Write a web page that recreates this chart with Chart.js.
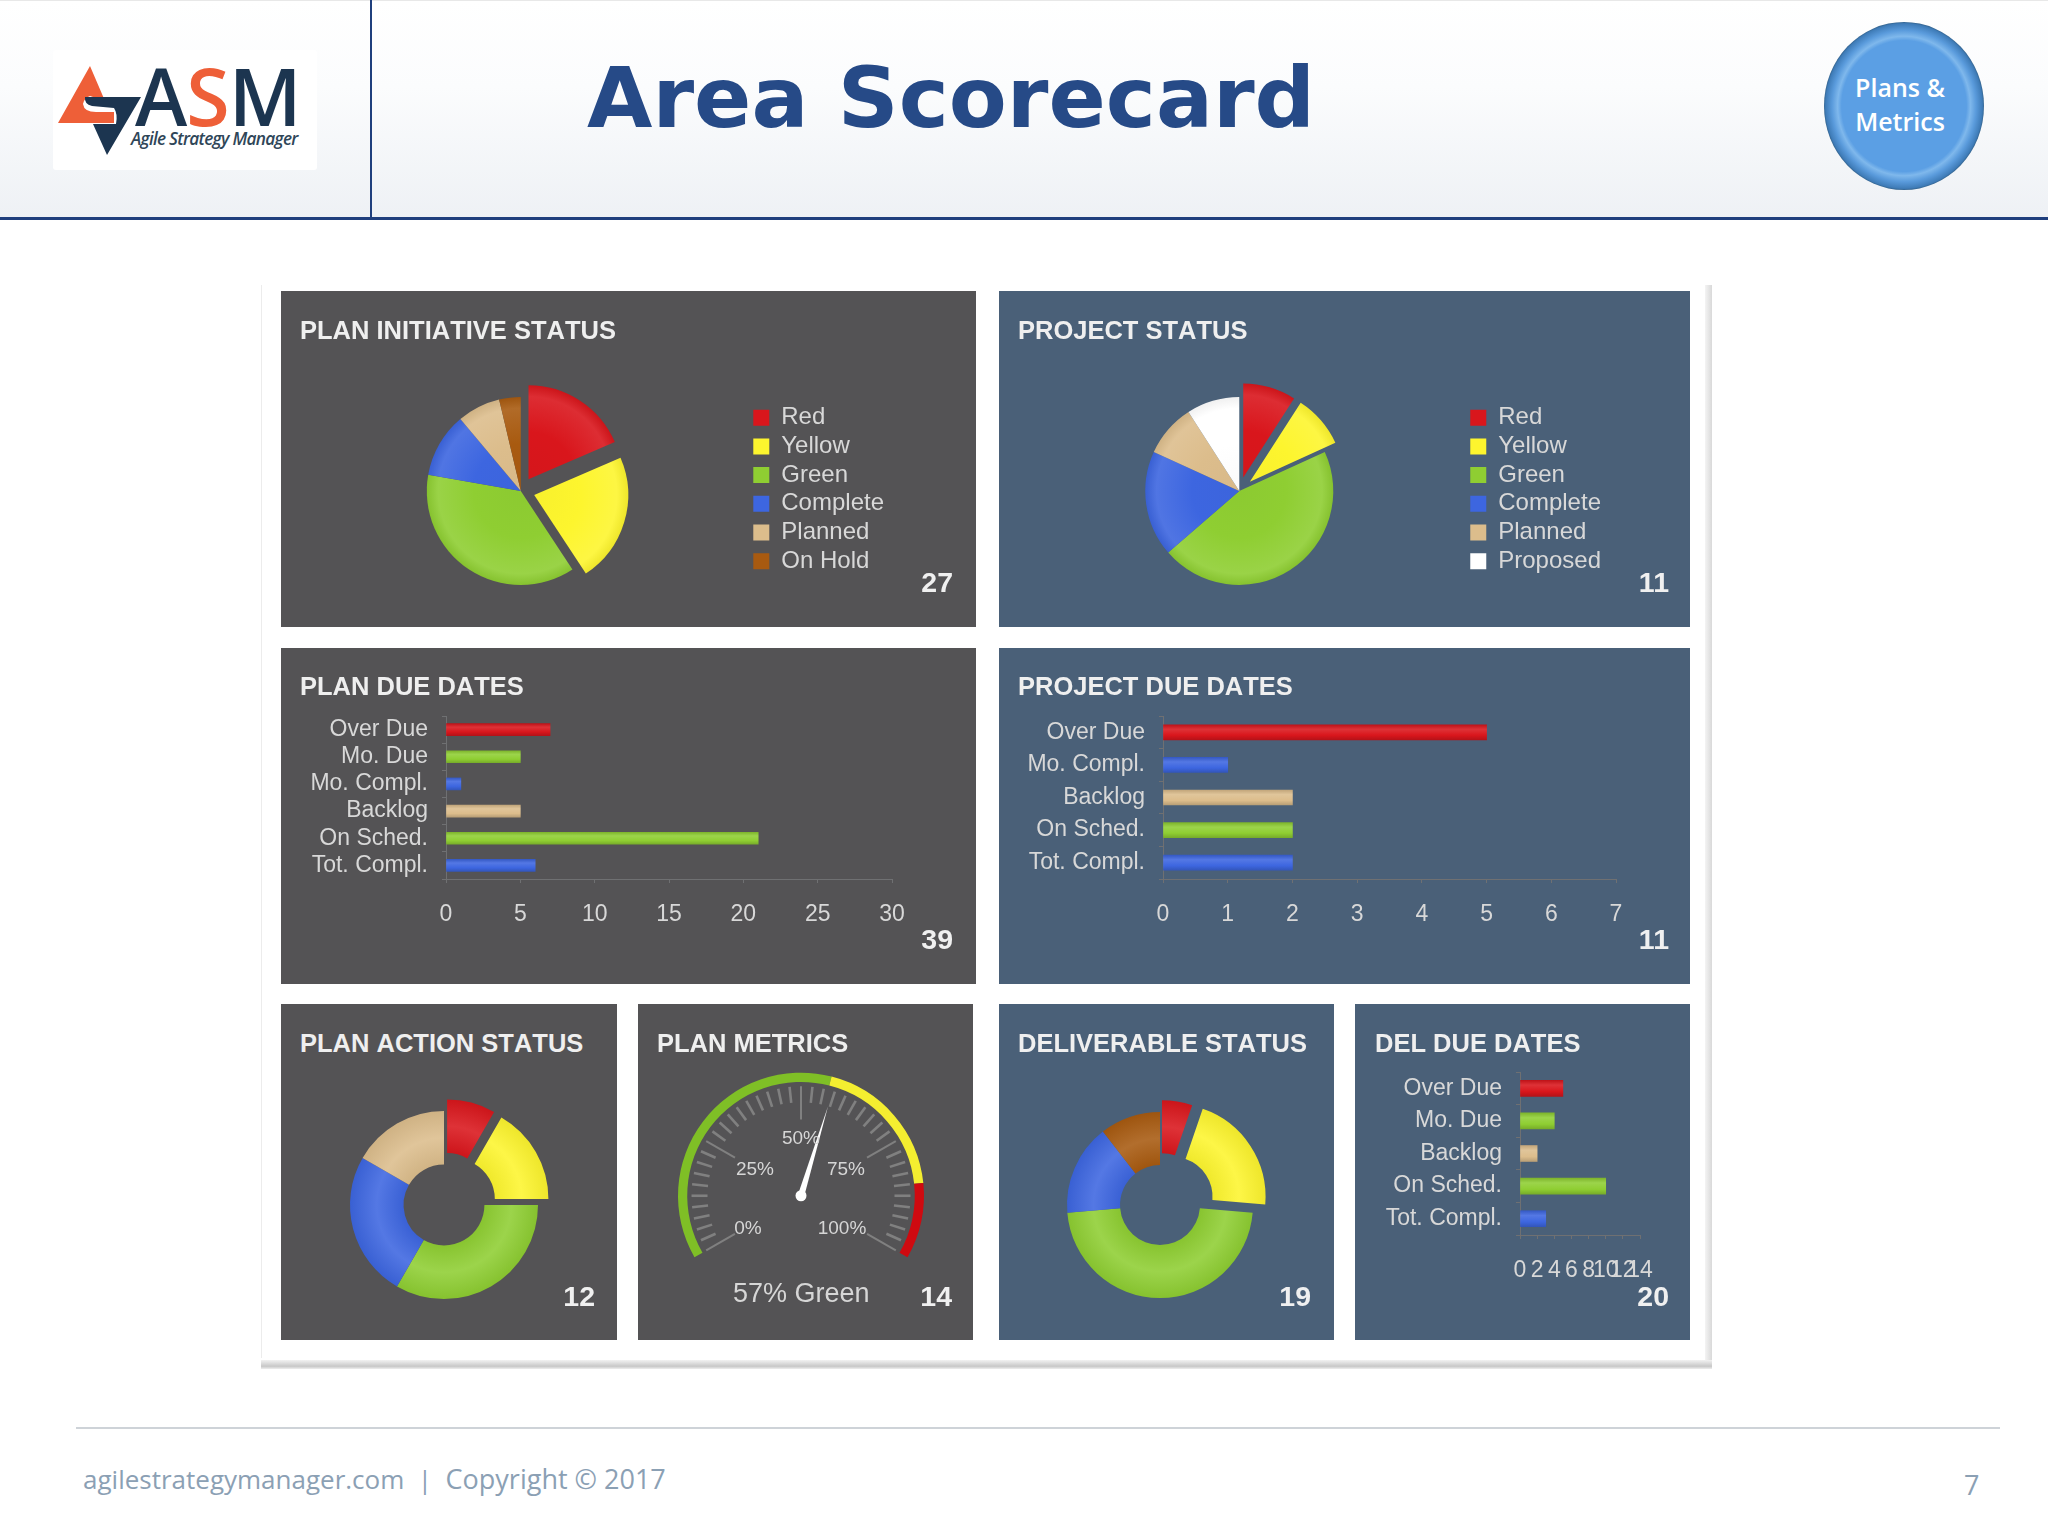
<!DOCTYPE html>
<html>
<head>
<meta charset="utf-8">
<script src="https://cdn.jsdelivr.net/npm/chart.js@4/dist/chart.umd.js"></script>
<style>
html,body{margin:0;padding:0;background:#fff;}
#page{position:relative;width:2048px;height:1536px;overflow:hidden;background:#fff;font-family:'Liberation Sans',Arial,sans-serif;}
.abs{position:absolute;}
#hdr{left:0;top:0;width:2048px;height:217px;background:linear-gradient(#ffffff 0%,#fbfcfd 40%,#eef1f5 100%);border-top:1px solid #e8e8e8;box-sizing:border-box;}
.panel{position:absolute;}
.dark{background:#545355;}
.blue{background:#4a6078;}
.ttl{position:absolute;font-weight:bold;font-size:25.5px;font-kerning:none;color:#efefef;white-space:nowrap;line-height:30px;}
.tot{position:absolute;font-weight:bold;font-size:28.5px;color:#f0f0f0;line-height:32px;text-align:right;}
.gl{position:absolute;font-size:19px;color:#d6d6d6;line-height:20px;transform:translate(-50%,-50%);white-space:nowrap;}
canvas{position:absolute;}
</style>
</head>
<body>
<div id="page">
  <div id="hdr" class="abs"></div>
  <div class="abs" style="left:0;top:217px;width:2048px;height:3px;background:#1f3f7d;"></div>
  <div class="abs" style="left:370px;top:0;width:2px;height:218px;background:#1f3f7d;"></div>

  <div class="abs" style="left:53px;top:50px;width:264px;height:120px;background:#fff;border-radius:3px;"></div>
  <svg class="abs" style="left:53px;top:50px;" width="264" height="120" viewBox="53 50 264 120">
    <path d="M90 66 L105 101 L90 96 Q84 98 83 104 Q84 112 96 112 L114 112 L114 123 L58 123 Z" fill="#ee5f38"/>
    <path d="M85 97 L141 97 L107 155 L93 124 L116 124 Q118 114 114 108 L92 106 Q84 104 85 97 Z" fill="#1c3550"/>
  </svg>
  <div class="abs" style="left:135px;top:46px;font-family:'Open Sans';font-weight:600;font-size:79px;line-height:100px;letter-spacing:-1px;color:#1c3550;white-space:nowrap;">A<span style="color:#ee5f38;">S</span>M</div>
  <div class="abs" style="left:131px;top:127px;font-family:'Open Sans';font-style:italic;font-weight:600;font-size:17.2px;line-height:24px;letter-spacing:-0.7px;color:#2f4658;white-space:nowrap;">Agile Strategy Manager</div>

  <div class="abs" style="left:587px;top:48px;font-family:'DejaVu Sans';font-weight:bold;font-size:84.5px;line-height:100px;color:#264a87;white-space:nowrap;">Area Scorecard</div>

  <div class="abs" style="left:1824px;top:22px;width:160px;height:168px;border-radius:50%;background:radial-gradient(closest-side,#5b9fe4 0%,#5b9fe4 78%,#7fb8ec 83%,#5a9bdc 90%,#3f7cb8 98%,#34648f 100%);"></div>
  <div class="abs" style="left:1820px;top:70px;width:160px;text-align:center;font-family:'Open Sans';font-weight:600;font-size:25px;line-height:34px;color:#fff;">Plans &amp;<br>Metrics</div>

  <div class="abs" style="left:261px;top:285px;width:1px;height:1073px;background:#ececec;"></div>
  <div class="abs" style="left:1705px;top:285px;width:7px;height:1084px;background:linear-gradient(90deg,#f4f4f4,#d9d9d9);"></div>
  <div class="abs" style="left:261px;top:1360px;width:1451px;height:9px;background:linear-gradient(#f2f2f2,#c8c8c8 70%,#eeeeee);"></div>

  <div class="panel dark" style="left:281px;top:291px;width:695px;height:336px;"></div>
  <div class="panel blue" style="left:999px;top:291px;width:691px;height:336px;"></div>
  <div class="panel dark" style="left:281px;top:648px;width:695px;height:336px;"></div>
  <div class="panel blue" style="left:999px;top:648px;width:691px;height:336px;"></div>
  <div class="panel dark" style="left:281px;top:1004px;width:336px;height:336px;"></div>
  <div class="panel dark" style="left:638px;top:1004px;width:335px;height:336px;"></div>
  <div class="panel blue" style="left:999px;top:1004px;width:335px;height:336px;"></div>
  <div class="panel blue" style="left:1355px;top:1004px;width:335px;height:336px;"></div>

  <canvas id="cInit" style="left:281px;top:291px;width:695px;height:336px;"></canvas>
  <canvas id="cProj" style="left:999px;top:291px;width:691px;height:336px;"></canvas>
  <canvas id="cPlanDue" style="left:281px;top:648px;width:695px;height:336px;"></canvas>
  <canvas id="cProjDue" style="left:999px;top:648px;width:691px;height:336px;"></canvas>
  <canvas id="cAction" style="left:314px;top:1075px;width:260px;height:260px;"></canvas>
  <canvas id="cGauge" style="left:651px;top:1015px;width:300px;height:300px;"></canvas>
  <canvas id="cDeliv" style="left:1030px;top:1075px;width:260px;height:260px;"></canvas>
  <canvas id="cDelDue" style="left:1355px;top:1004px;width:335px;height:336px;"></canvas>

  <div class="ttl" style="left:300px;top:315px;">PLAN INITIATIVE STATUS</div>
  <div class="ttl" style="left:1018px;top:315px;">PROJECT STATUS</div>
  <div class="ttl" style="left:300px;top:671px;">PLAN DUE DATES</div>
  <div class="ttl" style="left:1018px;top:671px;">PROJECT DUE DATES</div>
  <div class="ttl" style="left:300px;top:1028px;">PLAN ACTION STATUS</div>
  <div class="ttl" style="left:657px;top:1028px;">PLAN METRICS</div>
  <div class="ttl" style="left:1018px;top:1028px;">DELIVERABLE STATUS</div>
  <div class="ttl" style="left:1375px;top:1028px;">DEL DUE DATES</div>

  <div class="tot" style="right:1095px;top:566px;">27</div>
  <div class="tot" style="right:379px;top:566px;">11</div>
  <div class="tot" style="right:1095px;top:923px;">39</div>
  <div class="tot" style="right:379px;top:923px;">11</div>
  <div class="tot" style="right:1453px;top:1280px;">12</div>
  <div class="tot" style="right:1096px;top:1280px;">14</div>
  <div class="tot" style="right:737px;top:1280px;">19</div>
  <div class="tot" style="right:379px;top:1280px;">20</div>

  <div class="gl" style="left:801px;top:1138px;">50%</div>
  <div class="gl" style="left:755px;top:1169px;">25%</div>
  <div class="gl" style="left:846px;top:1169px;">75%</div>
  <div class="gl" style="left:748px;top:1228px;">0%</div>
  <div class="gl" style="left:842px;top:1228px;">100%</div>
  <div class="abs" style="left:733px;top:1277px;font-size:27px;line-height:32px;color:#d6d6d6;white-space:nowrap;">57% Green</div>

  <div class="abs" style="left:76px;top:1427px;width:1924px;height:2px;background:#ced3d8;"></div>
  <div class="abs" style="left:83px;top:1461px;font-family:'Open Sans';font-size:26px;line-height:36px;color:#8ba0b4;white-space:pre;">agilestrategymanager.com  |  <span style="font-size:27px;">Copyright © 2017</span></div>
  <div class="abs" style="left:1964px;top:1467px;font-family:'Open Sans';font-size:27px;line-height:36px;color:#8ba0b4;">7</div>
</div>

<script>
const initLabels = ['Red','Yellow','Green','Complete','Planned','On Hold'];
const initValues = [5,6,10,3,2,1];
const initColors = ['#d9161c','#fdf52e','#8fce32','#3d66e0','#dcbd8c','#a85a10'];

const projLabels = ['Red','Yellow','Green','Complete','Planned','Proposed'];
const projValues = [1,1,5,2,1,1];
const projColors = ['#d9161c','#fdf52e','#8fce32','#3d66e0','#dcbd8c','#ffffff'];

const actionLabels = ['Red','Yellow','Green','Complete','Planned'];
const actionValues = [1,2,4,3,2];
const actionColors = ['#d9161c','#fdf52e','#8fce32','#3d66e0','#dcbd8c'];

const delivLabels = ['Red','Yellow','Green','Complete','On Hold'];
const delivValues = [1,4,9,3,2];
const delivColors = ['#d9161c','#fdf52e','#8fce32','#3d66e0','#a85a10'];

const planDueLabels = ['Over Due','Mo. Due','Mo. Compl.','Backlog','On Sched.','Tot. Compl.'];
const planDueValues = [7,5,1,5,21,6];
const planDueColors = ['#d9161c','#8fce32','#3d66e0','#dcbd8c','#8fce32','#3d66e0'];

const projDueLabels = ['Over Due','Mo. Compl.','Backlog','On Sched.','Tot. Compl.'];
const projDueValues = [5,1,2,2,2];
const projDueColors = ['#d9161c','#3d66e0','#dcbd8c','#8fce32','#3d66e0'];

const delDueLabels = ['Over Due','Mo. Due','Backlog','On Sched.','Tot. Compl.'];
const delDueValues = [5,4,2,10,3];
const delDueColors = ['#d9161c','#8fce32','#dcbd8c','#8fce32','#3d66e0'];

const gaugeBands = [56,29,15];
const gaugeColors = ['#7fbf26','#f4ee30','#cf0a10'];
const gaugeValue = 57;
const gaugeMajor = [0,25,50,75,100];

const FONT = "'Liberation Sans', Arial, sans-serif";
const TEXT = '#d8d8d8';
Chart.defaults.animation = false;
Chart.defaults.font.family = FONT;
Chart.defaults.responsive = false;
Chart.defaults.plugins.tooltip.enabled = false;

// Moves whole slices outward (Chart.js's own arc "offset" mostly enlarges them).
const explode = {
  id:'explode',
  beforeDatasetDraw(chart, args, opts){
    const meta = chart.getDatasetMeta(args.index), c = chart.ctx, off = opts.offsets || [];
    meta.data.forEach((arc,i)=>{
      const o = off[i] || 0, mid = (arc.startAngle + arc.endAngle)/2;
      c.save();
      c.translate(o*Math.cos(mid), o*Math.sin(mid));
      arc.draw(c, chart.chartArea);
      c.restore();
    });
    return false;
  }
};

function shade(hex, f){
  const n = parseInt(hex.slice(1),16);
  const c = [n>>16,(n>>8)&255,n&255].map(v=>Math.round(f>0? v+(255-v)*f : v*(1+f)));
  return 'rgb('+c.join(',')+')';
}
function sized(id){
  const c = document.getElementById(id);
  c.width = parseInt(c.style.width); c.height = parseInt(c.style.height);
  return c;
}
function arcFill(colors, R, inner){
  return function(ctx){
    const a = ctx.chart.chartArea;
    const base = colors[ctx.dataIndex];
    if(!a || !isFinite(a.left)) return base;
    const cx = (a.left+a.right)/2, cy = (a.top+a.bottom)/2;
    const g = ctx.chart.ctx.createRadialGradient(cx,cy,0,cx,cy,R);
    if(inner){
      g.addColorStop(0,shade(base,-.05));
      g.addColorStop(inner,shade(base,-.05));
      g.addColorStop((inner+1)/2,shade(base,.12));
      g.addColorStop(1,shade(base,-.06));
    } else {
      g.addColorStop(0,shade(base,-.02));
      g.addColorStop(.5,base);
      g.addColorStop(.88,shade(base,.1));
      g.addColorStop(1,shade(base,-.06));
    }
    return g;
  };
}
function legendLabels(colors){
  return function(chart){
    return chart.data.labels.map((t,i)=>({text:t,fillStyle:colors[i],strokeStyle:colors[i],lineWidth:0,fontColor:TEXT,index:i}));
  };
}
function pie(id, labels, values, colors, off, R, padding){
  new Chart(sized(id),{
    type:'pie',
    data:{labels:labels,datasets:[{data:values,backgroundColor:arcFill(colors,R),borderWidth:0}]},
    options:{radius:R,layout:{padding:padding},
      plugins:{explode:{offsets:off},legend:{position:'right',align:'start',labels:{boxWidth:16,boxHeight:16,padding:4.7,color:TEXT,font:{size:24,family:FONT},generateLabels:legendLabels(colors)}}}},
    plugins:[explode]
  });
}
function donut(id, labels, values, colors, off, R, cut){
  new Chart(sized(id),{
    type:'doughnut',
    data:{labels:labels,datasets:[{data:values,backgroundColor:arcFill(colors,R,cut),borderWidth:0}]},
    options:{radius:R,cutout:Math.round(cut*100)+'%',plugins:{explode:{offsets:off},legend:{display:false}}},
    plugins:[explode]
  });
}
function barFill(colors, thick){
  return function(ctx){
    const base = colors[ctx.dataIndex];
    const y = ctx.chart.scales.y;
    if(!y) return base;
    const c = y.getPixelForValue(ctx.dataIndex);
    if(!isFinite(c)) return base;
    const g = ctx.chart.ctx.createLinearGradient(0,c-thick/2,0,c+thick/2);
    g.addColorStop(0,shade(base,-.12));
    g.addColorStop(.3,shade(base,.12));
    g.addColorStop(.7,base);
    g.addColorStop(1,shade(base,-.16));
    return g;
  };
}
function hbar(id, labels, values, colors, axis, thick){
  new Chart(sized(id),{
    type:'bar',
    data:{labels:labels,datasets:[{data:values,backgroundColor:barFill(colors,thick),barThickness:thick,borderWidth:0}]},
    options:{
      indexAxis:'y',
      layout:{padding:{left:0,right:axis.right,top:axis.top,bottom:0}},
      plugins:{legend:{display:false}},
      scales:{
        x:{min:0,max:axis.max,
          grid:{drawOnChartArea:false,drawTicks:true,tickLength:4,color:'#6f7072'},
          border:{color:'#6f7072'},
          ticks:{stepSize:axis.step,autoSkip:false,maxRotation:0,color:TEXT,padding:axis.tickPad,font:{size:23,family:FONT}},
          afterFit(s){s.height=axis.below;}},
        y:{grid:{drawOnChartArea:false,tickLength:4,color:'#6f7072'},
          border:{color:'#6f7072'},
          ticks:{autoSkip:false,color:TEXT,padding:14,font:{size:23,family:FONT}},
          afterFit(s){s.width=axis.left;}}
      }
    }
  });
}

pie('cInit',initLabels,initValues,initColors,[14,14,0,0,0,0],94,{left:12,right:82,top:110,bottom:46});
pie('cProj',projLabels,projValues,projColors,[14,14,0,0,0,0],94,{left:14,right:79,top:110,bottom:46});
hbar('cPlanDue',planDueLabels,planDueValues,planDueColors,{max:30,step:5,left:165,right:84,top:68,below:105,tickPad:18},12);
hbar('cProjDue',projDueLabels,projDueValues,projDueColors,{max:7,step:1,left:164,right:74,top:68,below:105,tickPad:18},15);
hbar('cDelDue',delDueLabels,delDueValues,delDueColors,{max:14,step:2,left:165,right:50,top:68,below:105,tickPad:18},16);
donut('cAction',actionLabels,actionValues,actionColors,[12,12,0,0,0],94,.43);
donut('cDeliv',delivLabels,delivValues,delivColors,[12,15,0,0,0],93,.43);

const gaugeDial = {
  id:'gaugeDial',
  afterDatasetsDraw(chart){
    const arc = chart.getDatasetMeta(0).data[0];
    const c = chart.ctx, R = arc.outerRadius, x = arc.x, y = arc.y;
    const ang = p => (-120 + p*2.4) * Math.PI/180;
    c.save();
    c.strokeStyle = '#808080';
    for(let k=0;k<=40;k++){
      const p = k*2.5;
      const major = gaugeMajor.includes(p);
      const a = ang(p), r1 = R*.89, r0 = major ? R*.62 : R*.76;
      c.lineWidth = major ? 2 : 2.6;
      c.beginPath();
      c.moveTo(x+r0*Math.sin(a),y-r0*Math.cos(a));
      c.lineTo(x+r1*Math.sin(a),y-r1*Math.cos(a));
      c.stroke();
    }
    const a = ang(gaugeValue), L = R*.76;
    const sx = Math.sin(a), cx = Math.cos(a);
    c.fillStyle = '#ffffff';
    c.beginPath();
    c.moveTo(x+L*sx,y-L*cx);
    c.lineTo(x+3.2*cx,y+3.2*sx);
    c.lineTo(x-3.2*cx,y-3.2*sx);
    c.closePath(); c.fill();
    c.beginPath(); c.arc(x,y,5.5,0,2*Math.PI); c.fill();
    c.restore();
  }
};
new Chart(sized('cGauge'),{
  type:'doughnut',
  data:{labels:['Green','Yellow','Red'],datasets:[{data:gaugeBands,backgroundColor:gaugeColors,borderWidth:0}]},
  options:{radius:123,cutout:'92.5%',rotation:-120,circumference:240,plugins:{legend:{display:false}}},
  plugins:[gaugeDial]
});
</script>
</body>
</html>
